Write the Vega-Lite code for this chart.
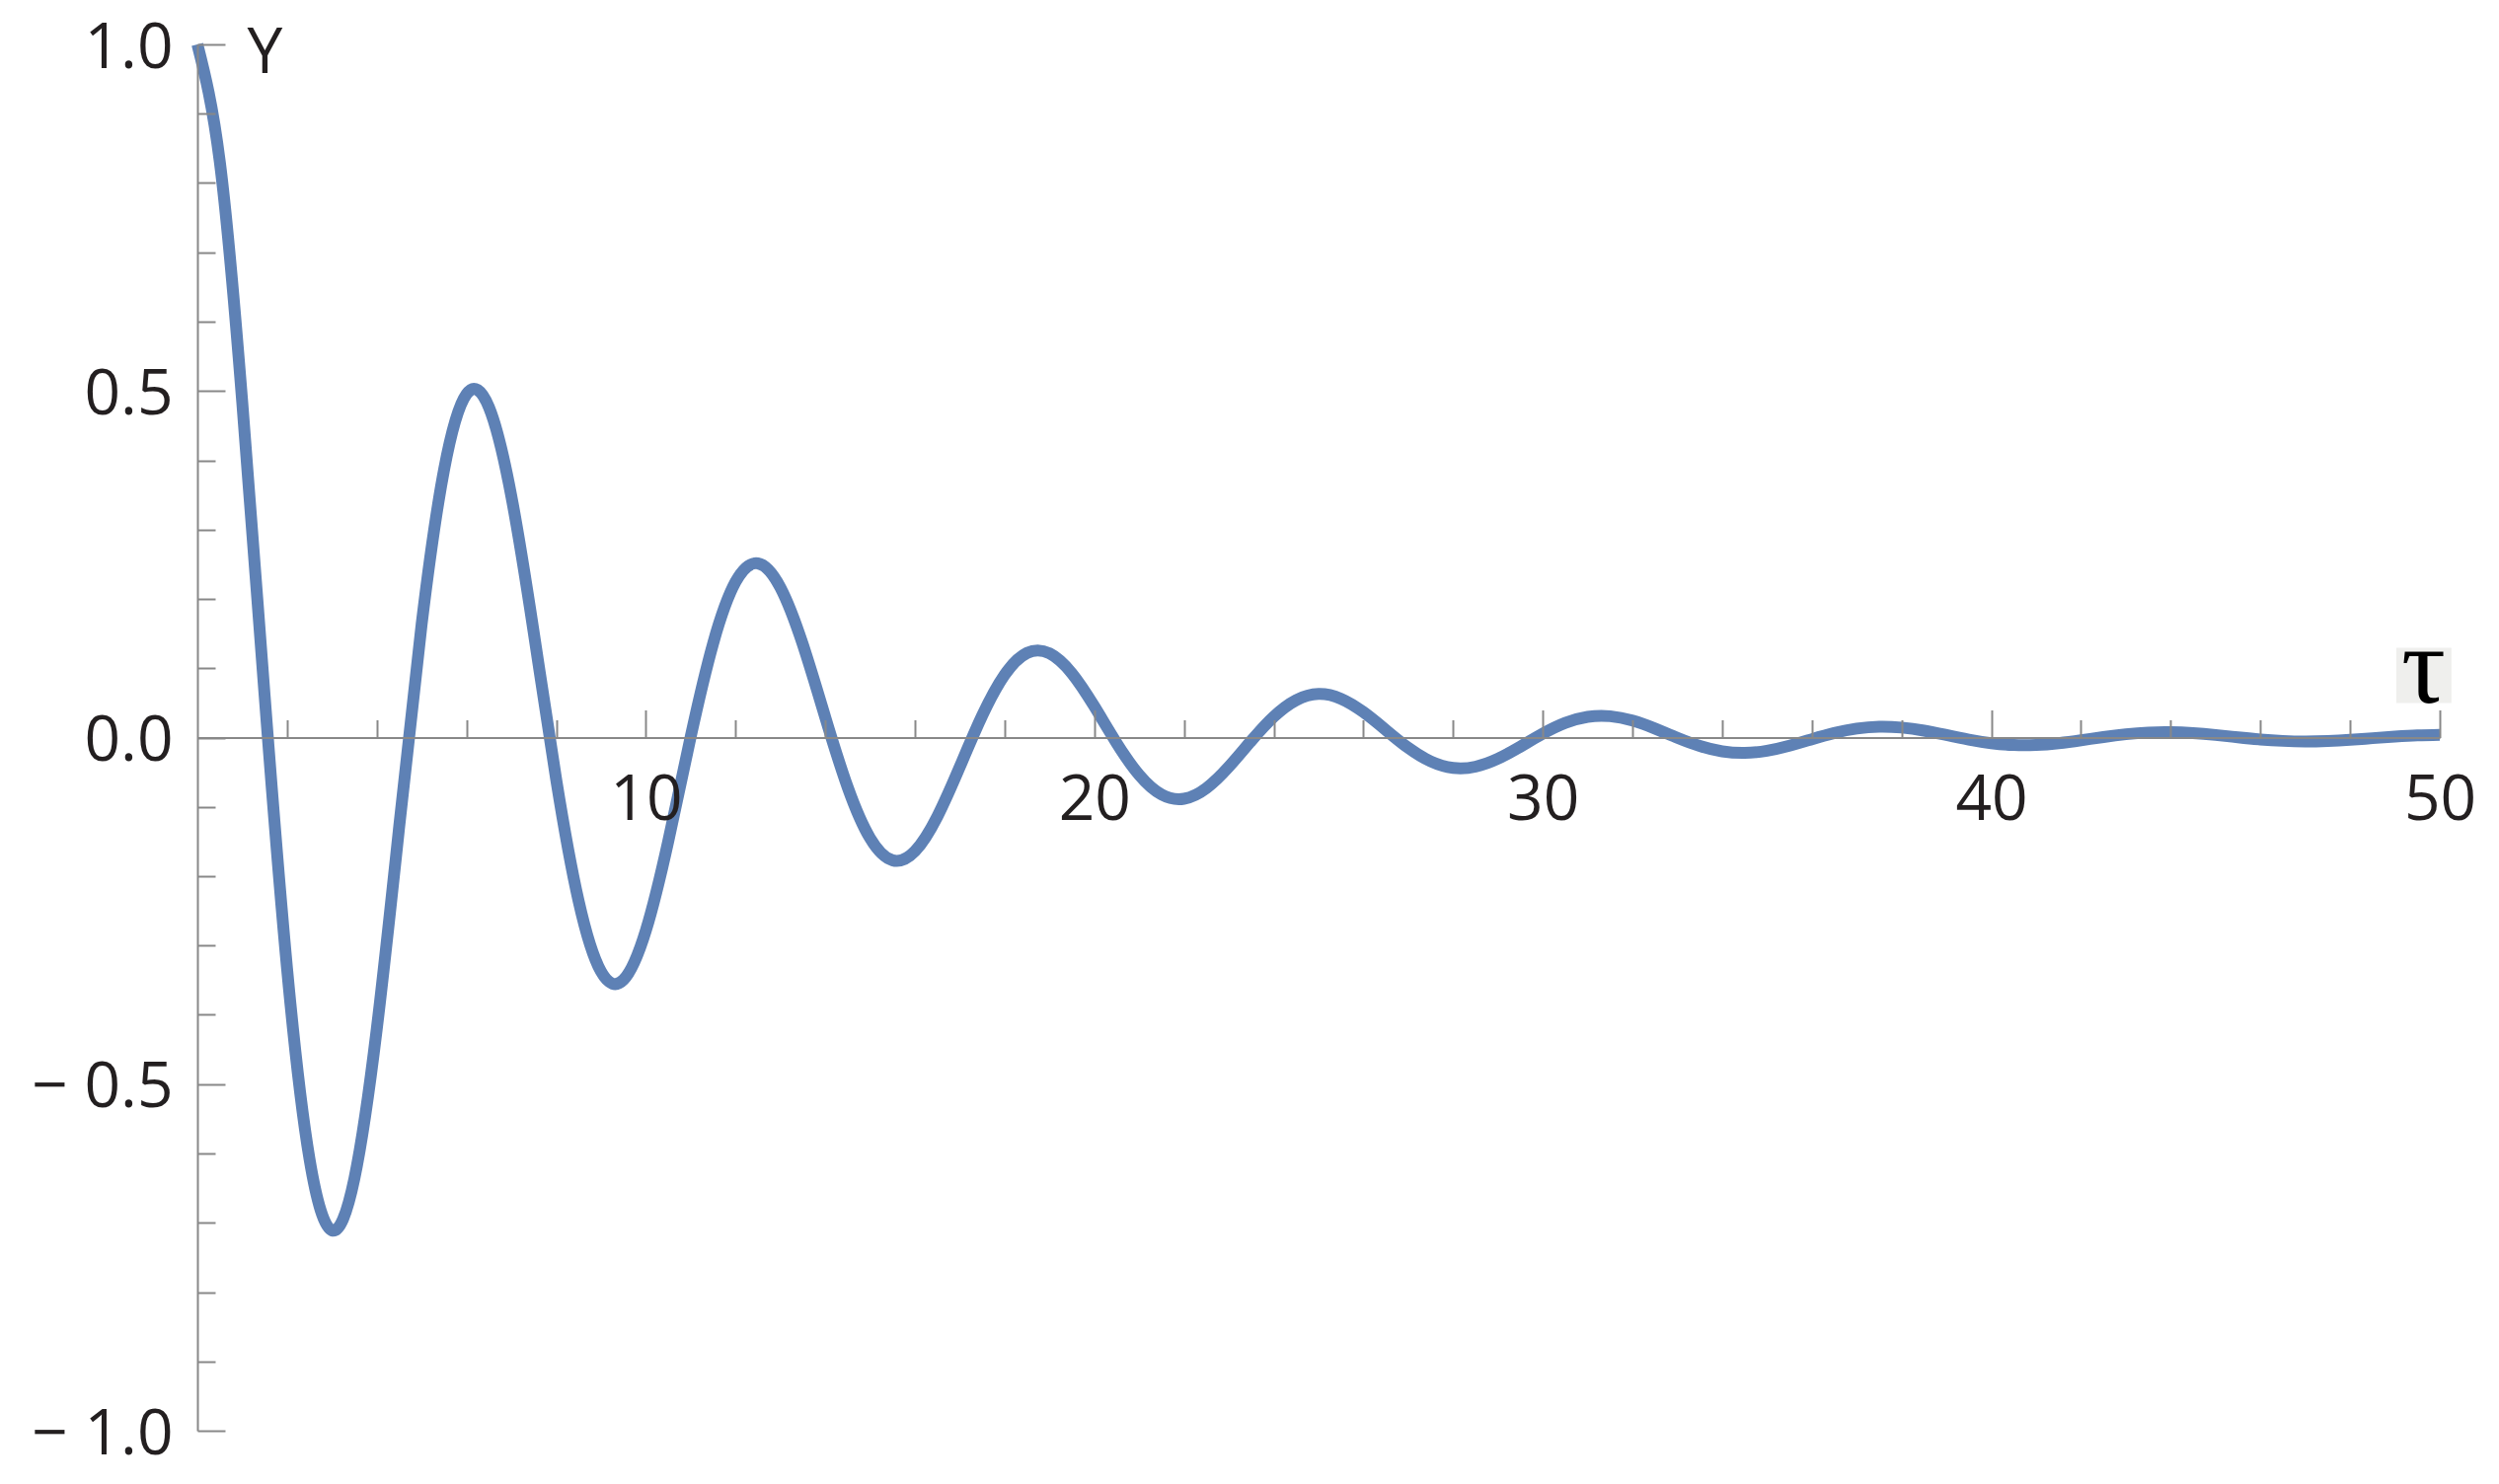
{
  "$schema": "https://vega.github.io/schema/vega-lite/v6.json",
  "description": "Damped oscillation Y against tau, Mathematica-style axes crossing at the origin.",
  "width": 2272,
  "height": 1405,
  "autosize": "none",
  "padding": {"left": 200, "top": 45, "right": 60, "bottom": 54},
  "background": "white",
  "config": {
    "view": {"stroke": null},
    "axis": {
      "grid": false,
      "domainColor": "#888888",
      "domainWidth": 2,
      "tickColor": "#888888",
      "tickWidth": 2,
      "labelFont": "Open Sans",
      "labelFontSize": 64,
      "labelColor": "#231f20",
      "labelOverlap": false,
      "labelFlush": false
    }
  },
  "data": {
    "values": [
      {"tau": 0, "Y": 1},
      {"tau": 0.5, "Y": 0.8305},
      {"tau": 1, "Y": 0.4839},
      {"tau": 1.5, "Y": 0.0599},
      {"tau": 2, "Y": -0.3338},
      {"tau": 2.5, "Y": -0.608},
      {"tau": 3, "Y": -0.711},
      {"tau": 3.5, "Y": -0.6365},
      {"tau": 4, "Y": -0.4204},
      {"tau": 4.5, "Y": -0.1283},
      {"tau": 5, "Y": 0.1634},
      {"tau": 5.5, "Y": 0.3863},
      {"tau": 6, "Y": 0.4953},
      {"tau": 6.5, "Y": 0.4767},
      {"tau": 7, "Y": 0.3483},
      {"tau": 7.5, "Y": 0.1515},
      {"tau": 8, "Y": -0.0602},
      {"tau": 8.5, "Y": -0.2357},
      {"tau": 9, "Y": -0.3376},
      {"tau": 9.5, "Y": -0.3496},
      {"tau": 10, "Y": -0.2784},
      {"tau": 10.5, "Y": -0.1493},
      {"tau": 11, "Y": 0.0013},
      {"tau": 11.5, "Y": 0.1359},
      {"tau": 12, "Y": 0.2246},
      {"tau": 12.5, "Y": 0.2513},
      {"tau": 13, "Y": 0.2163},
      {"tau": 13.5, "Y": 0.1342},
      {"tau": 14, "Y": 0.0292},
      {"tau": 14.5, "Y": -0.0717},
      {"tau": 15, "Y": -0.1452},
      {"tau": 15.5, "Y": -0.177},
      {"tau": 16, "Y": -0.1639},
      {"tau": 16.5, "Y": -0.1138},
      {"tau": 17, "Y": -0.0422},
      {"tau": 17.5, "Y": 0.0318},
      {"tau": 18, "Y": 0.0906},
      {"tau": 18.5, "Y": 0.1221},
      {"tau": 19, "Y": 0.1215},
      {"tau": 19.5, "Y": 0.0926},
      {"tau": 20, "Y": 0.0449},
      {"tau": 20.5, "Y": -0.0083},
      {"tau": 21, "Y": -0.054},
      {"tau": 21.5, "Y": -0.0823},
      {"tau": 22, "Y": -0.0883},
      {"tau": 22.5, "Y": -0.073},
      {"tau": 23, "Y": -0.0421},
      {"tau": 23.5, "Y": -0.0046},
      {"tau": 24, "Y": 0.03},
      {"tau": 24.5, "Y": 0.054},
      {"tau": 25, "Y": 0.0629},
      {"tau": 25.5, "Y": 0.056},
      {"tau": 26, "Y": 0.0367},
      {"tau": 26.5, "Y": 0.0109},
      {"tau": 27, "Y": -0.0149},
      {"tau": 27.5, "Y": -0.0344},
      {"tau": 28, "Y": -0.0438},
      {"tau": 28.5, "Y": -0.042},
      {"tau": 29, "Y": -0.0305},
      {"tau": 29.5, "Y": -0.0131},
      {"tau": 30, "Y": 0.0056},
      {"tau": 30.5, "Y": 0.0211},
      {"tau": 31, "Y": 0.0299},
      {"tau": 31.5, "Y": 0.0308},
      {"tau": 32, "Y": 0.0244},
      {"tau": 32.5, "Y": 0.013},
      {"tau": 33, "Y": -0.0003},
      {"tau": 33.5, "Y": -0.0122},
      {"tau": 34, "Y": -0.0199},
      {"tau": 34.5, "Y": -0.0222},
      {"tau": 35, "Y": -0.019},
      {"tau": 35.5, "Y": -0.0117},
      {"tau": 36, "Y": -0.0024},
      {"tau": 36.5, "Y": 0.0065},
      {"tau": 37, "Y": 0.0129},
      {"tau": 37.5, "Y": 0.0157},
      {"tau": 38, "Y": 0.0144},
      {"tau": 38.5, "Y": 0.01},
      {"tau": 39, "Y": 0.0036},
      {"tau": 39.5, "Y": -0.0029},
      {"tau": 40, "Y": -0.0081},
      {"tau": 40.5, "Y": -0.0108},
      {"tau": 41, "Y": -0.0107},
      {"tau": 41.5, "Y": -0.0081},
      {"tau": 42, "Y": -0.0039},
      {"tau": 42.5, "Y": 0.0008},
      {"tau": 43, "Y": 0.0048},
      {"tau": 43.5, "Y": 0.0073},
      {"tau": 44, "Y": 0.0078},
      {"tau": 44.5, "Y": 0.0064},
      {"tau": 45, "Y": 0.0037},
      {"tau": 45.5, "Y": 0.0004},
      {"tau": 46, "Y": -0.0027},
      {"tau": 46.5, "Y": -0.0048},
      {"tau": 47, "Y": -0.0056},
      {"tau": 47.5, "Y": -0.0049},
      {"tau": 48, "Y": -0.0032},
      {"tau": 48.5, "Y": -0.0009},
      {"tau": 49, "Y": 0.0013},
      {"tau": 49.5, "Y": 0.0031},
      {"tau": 50, "Y": 0.0039}
    ]
  },
  "layer": [
    {
      "data": {"values": [{"x": 49.03, "x2": 50.26, "y": 0.1295, "y2": 0.0498}]},
      "mark": {"type": "rect", "color": "#efefed", "clip": false},
      "encoding": {
        "x": {"field": "x", "type": "quantitative", "axis": null},
        "x2": {"field": "x2"},
        "y": {"field": "y", "type": "quantitative", "axis": null},
        "y2": {"field": "y2"}
      }
    },
    {
      "mark": {"type": "line", "interpolate": "natural", "color": "#5e81b5", "strokeWidth": 12},
      "encoding": {
        "x": {
          "field": "tau",
          "type": "quantitative",
          "scale": {"domain": [0, 50], "nice": false, "zero": false},
          "axis": {
            "orient": "bottom",
            "zindex": 1,
            "offset": -702.5,
            "values": [10, 20, 30, 40, 50],
            "tickSize": -28,
            "labelPadding": 60,
            "labelBaseline": "top",
            "title": "τ",
            "titleFont": "Liberation Serif",
            "titleFontSize": 112,
            "titleFontWeight": "normal",
            "titleColor": "#000000",
            "titleAlign": "center",
            "titleBaseline": "alphabetic",
            "titleX": 2255,
            "titleY": -36
          }
        },
        "y": {
          "field": "Y",
          "type": "quantitative",
          "scale": {"domain": [-1, 1], "nice": false, "zero": false},
          "axis": {
            "orient": "left",
            "zindex": 1,
            "values": [-1, -0.5, 0, 0.5, 1],
            "tickSize": -28,
            "labelPadding": 53,
            "labelOffset": 4,
            "labelExpr": "datum.value < 0 ? '− ' + format(-datum.value, '.1f') : format(datum.value, '.1f')",
            "title": "Y",
            "titleFont": "Open Sans",
            "titleFontSize": 64,
            "titleFontWeight": "normal",
            "titleColor": "#231f20",
            "titleAngle": 0,
            "titleAlign": "left",
            "titleBaseline": "alphabetic",
            "titleX": 50,
            "titleY": 28
          }
        }
      }
    },
    {
      "mark": {"type": "line", "strokeOpacity": 0},
      "encoding": {
        "x": {
          "field": "tau",
          "type": "quantitative",
          "axis": {
            "orient": "bottom",
            "zindex": 1,
            "offset": -702.5,
            "values": [2, 4, 6, 8, 12, 14, 16, 18, 22, 24, 26, 28, 32, 34, 36, 38, 42, 44, 46, 48],
            "tickSize": -18,
            "labels": false,
            "domain": false,
            "title": null
          }
        },
        "y": {
          "field": "Y",
          "type": "quantitative",
          "axis": {
            "orient": "left",
            "zindex": 1,
            "values": [-0.9, -0.8, -0.7, -0.6, -0.4, -0.3, -0.2, -0.1, 0.1, 0.2, 0.3, 0.4, 0.6, 0.7, 0.8, 0.9],
            "tickSize": -18,
            "labels": false,
            "domain": false,
            "title": null
          }
        }
      }
    }
  ],
  "resolve": {"axis": {"x": "independent", "y": "independent"}}
}
